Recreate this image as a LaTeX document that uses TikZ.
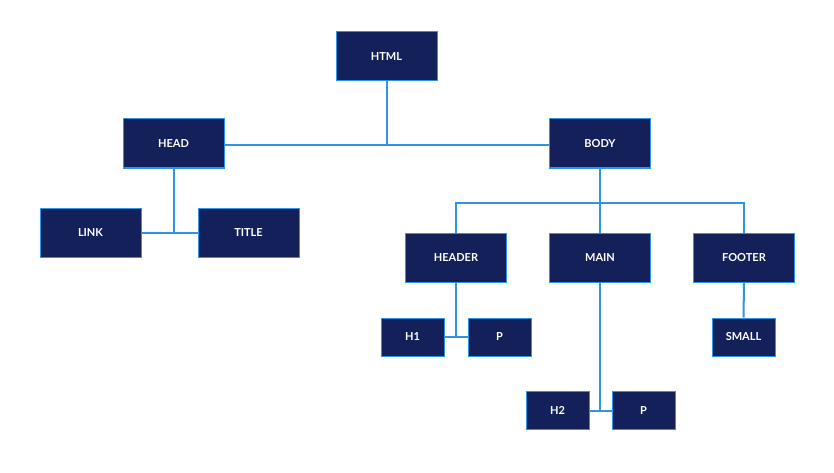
\documentclass[tikz,border=0pt]{standalone}
\usepackage{fontspec}
\setmainfont{Lato}
\definecolor{navy}{HTML}{14205A}
\definecolor{edge}{HTML}{2F93E8}
\begin{document}
\begin{tikzpicture}[x=1pt,y=-1pt,
  box/.style={draw=edge,fill=navy,line width=1pt,text=white,font=\fontsize{11}{12}\selectfont\bfseries,minimum width=101pt,minimum height=49pt,inner sep=0},
  sbox/.style={box,minimum width=63pt,minimum height=38pt},
  ln/.style={draw=edge,line width=2pt}]
\useasboundingbox[fill=white] (0,0) rectangle (834,473);
\node[box] (html) at (386.5,56.5) {HTML};
\node[box] (head) at (173.5,143.5) {HEAD};
\node[box] (body) at (600,143.5) {BODY};
\node[box] (link) at (90.5,232.5) {LINK};
\node[box] (title) at (248.5,232.5) {TITLE};
\node[box] (header) at (456,258) {HEADER};
\node[box] (main) at (600,258) {MAIN};
\node[box] (footer) at (744,258) {FOOTER};
\node[sbox] (h1) at (412.5,337) {H1};
\node[sbox] (p1) at (499.5,337) {P};
\node[sbox] (h2) at (557.5,410.5) {H2};
\node[sbox] (p2) at (643.5,410.5) {P};
\node[sbox] (small) at (743.5,337) {SMALL};
\coordinate (j1) at (386.5,145);
\coordinate (j2) at (173.5,233);
\coordinate (j3) at (600,203);
\coordinate (j4) at (456,337);
\coordinate (j5) at (600,410.5);
\begin{scope}[on background layer/.style={}]
\draw[ln] (html.south) -- (j1);
\draw[ln] (head.east|-j1) -- (body.west|-j1);
\draw[ln] (head.south) -- (j2);
\draw[ln] (link.east|-j2) -- (title.west|-j2);
\draw[ln] (body.south) -- (j3);
\draw[ln] (header.north) -- (header.north|-j3) -- (footer.north|-j3) -- (footer.north);
\draw[ln] (j3) -- (main.north);
\draw[ln] (header.south) -- (j4);
\draw[ln] (h1.east) -- (p1.west);
\draw[ln] (main.south) -- (j5);
\draw[ln] (h2.east) -- (p2.west);
\draw[ln] (footer.south) -- (small.north);
\end{scope}
\end{tikzpicture}
\end{document}
